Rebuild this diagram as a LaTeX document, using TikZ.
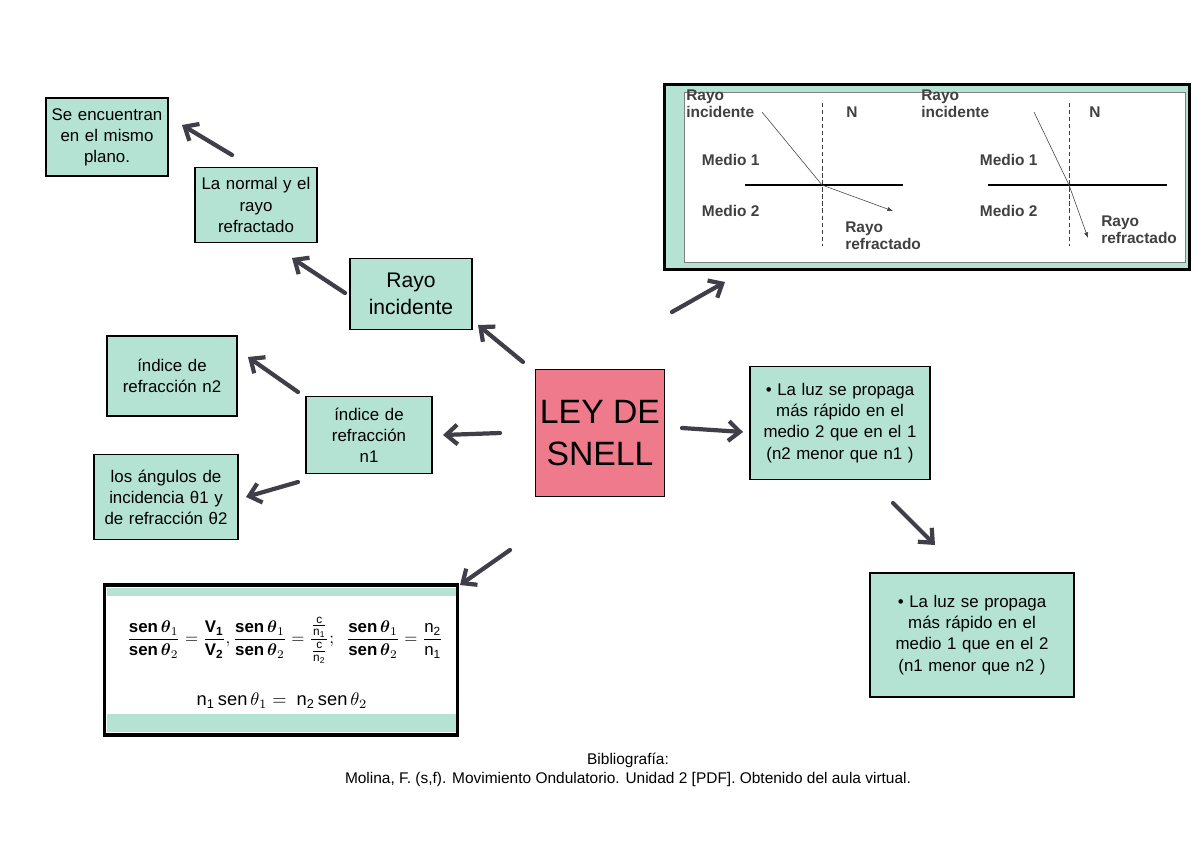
\documentclass[tikz,border=0pt]{standalone}
\usepackage{amsmath,amsbsy}
\usepackage{fontspec}
\setmainfont{Liberation Sans}
\usetikzlibrary{arrows.meta}
\definecolor{menta}{RGB}{180,226,211}
\definecolor{rosa}{RGB}{238,122,140}
\definecolor{flecha}{RGB}{64,62,72}
\tikzset{
  caja/.style={draw=black, line width=1.2pt, fill=menta, align=center, font=\fontsize{12}{15}\selectfont, inner sep=3pt},
  enlace/.style={draw=flecha, line width=3pt, line cap=round, -{Straight Barb[length=8pt,width=14pt]}},
}
\begin{document}
\begin{tikzpicture}[x=0.025cm, y=-0.025cm]
  \useasboundingbox (0,0) rectangle (1200,849);
  % Centro
  \node[caja, fill=rosa, minimum width=129*0.025cm, minimum height=127*0.025cm, font=\fontsize{24}{30}\selectfont] (ley) at (600,433) {LEY DE\\SNELL};
  % Rama izquierda
  \node[caja, font=\fontsize{15}{19}\selectfont, minimum width=122*0.025cm, minimum height=71*0.025cm] (rayo) at (411,294) {Rayo\\incidente};
  \node[caja, text width=113*0.025cm, minimum height=75*0.025cm] (normal) at (256,205) {La normal y el\\rayo\\refractado};
  \node[caja, text width=113*0.025cm, minimum height=78*0.025cm] (plano) at (107,137) {Se encuentran\\en el mismo\\plano.};
  \node[caja, text width=118*0.025cm, minimum height=77*0.025cm] (nuno) at (369,435) {índice de\\refracción\\n1};
  \node[caja, text width=122*0.025cm, minimum height=80*0.025cm] (ndos) at (172,376) {índice de\\refracción n2};
  \node[caja, text width=136*0.025cm, minimum height=85*0.025cm] (angulos) at (166,497) {los ángulos de\\incidencia θ1 y\\de refracción θ2};
  % Formula
  \node[caja, fill=white, line width=2.5pt, minimum width=353*0.025cm, minimum height=150*0.025cm] (formula) at (281,660) {};
  \fill[menta] (107,588) rectangle (456,596);
  \fill[menta] (107,714) rectangle (456,732);
  \node[scale=1.2] at (285,640) {$\displaystyle\frac{\mathbf{sen}\,\boldsymbol\theta_1}{\mathbf{sen}\,\boldsymbol\theta_2}=\frac{\mathbf{V_1}}{\mathbf{V_2}},\frac{\mathbf{sen}\,\boldsymbol\theta_1}{\mathbf{sen}\,\boldsymbol\theta_2}=\frac{\frac{\mathrm{c}}{\mathrm{n_1}}}{\frac{\mathrm{c}}{\mathrm{n_2}}};\ \ \frac{\mathbf{sen}\,\boldsymbol\theta_1}{\mathbf{sen}\,\boldsymbol\theta_2}=\frac{\mathrm{n_2}}{\mathrm{n_1}}$};
  \node[scale=1.3] at (282,701) {$\mathrm{n_1\,sen}\,\theta_1 =\ \mathrm{n_2\,sen}\,\theta_2$};
  % Rama derecha
  \node[caja, text width=172*0.025cm, minimum height=113*0.025cm] (luzuno) at (840,423) {• La luz se propaga\\más rápido en el\\medio 2 que en el 1\\(n2 menor que n1 )};
  \node[caja, text width=196*0.025cm, minimum height=124*0.025cm] (luzdos) at (972,635) {• La luz se propaga\\más rápido en el\\medio 1 que en el 2\\(n1 menor que n2 )};
  % Imagen
  \node[caja, line width=2.5pt, minimum width=525*0.025cm, minimum height=185*0.025cm] (imagen) at (927,177) {};
  \fill[white, draw=gray] (684,92) rectangle (1185,262);
  \begin{scope}[font=\fontsize{11}{12}\selectfont\bfseries, color=gray!50!black]
    \node[align=left, anchor=north west, inner sep=0pt] at (686,90) {Rayo\\incidente};
    \node at (852,112) {N};
    \node[anchor=west] at (697,160) {Medio 1};
    \node[anchor=west] at (697,211) {Medio 2};
    \node[align=left, anchor=north west, inner sep=0pt] at (845,222) {Rayo\\refractado};
    \draw[densely dashed, thin] (822,103) -- (822,246);
    \draw[line width=1.6pt, black] (745,185) -- (903,185);
    \draw[-{Latex[length=4pt]}] (762,112) -- (822,185) -- (893,211);
    \node[align=left, anchor=north west, inner sep=0pt] at (921,90) {Rayo\\incidente};
    \node at (1095,112) {N};
    \node[anchor=west] at (975,160) {Medio 1};
    \node[anchor=west] at (975,211) {Medio 2};
    \node[align=left, anchor=north west, inner sep=0pt] at (1101,216) {Rayo\\refractado};
    \draw[densely dashed, thin] (1069,103) -- (1069,246);
    \draw[line width=1.6pt, black] (988,185) -- (1167,185);
    \draw[-{Latex[length=4pt]}] (1034,112) -- (1069,185) -- (1088,238);
  \end{scope}
  % Conectores
  \coordinate (a1) at (523,362); \coordinate (b1) at (478,325);
  \coordinate (a2) at (345,293); \coordinate (b2) at (292,258);
  \coordinate (a3) at (232,155); \coordinate (b3) at (182,125);
  \coordinate (a4) at (500,433); \coordinate (b4) at (443,435);
  \coordinate (a5) at (298,392); \coordinate (b5) at (248,357);
  \coordinate (a6) at (298,482); \coordinate (b6) at (246,497);
  \coordinate (a7) at (510,550); \coordinate (b7) at (460,585);
  \coordinate (a8) at (672,312); \coordinate (b8) at (725,282);
  \coordinate (a9) at (682,428); \coordinate (b9) at (743,432);
  \coordinate (a10) at (893,503); \coordinate (b10) at (935,545);
  \foreach \i in {1,...,10} \draw[enlace] (a\i) -- (b\i);
  % Bibliografia
  \node[font=\fontsize{11}{14}\selectfont, align=center] (biblio) at (628,770) {Bibliografía:\\Molina, F. (s,f). Movimiento Ondulatorio. Unidad 2 [PDF]. Obtenido del aula virtual.};
\end{tikzpicture}
\end{document}
